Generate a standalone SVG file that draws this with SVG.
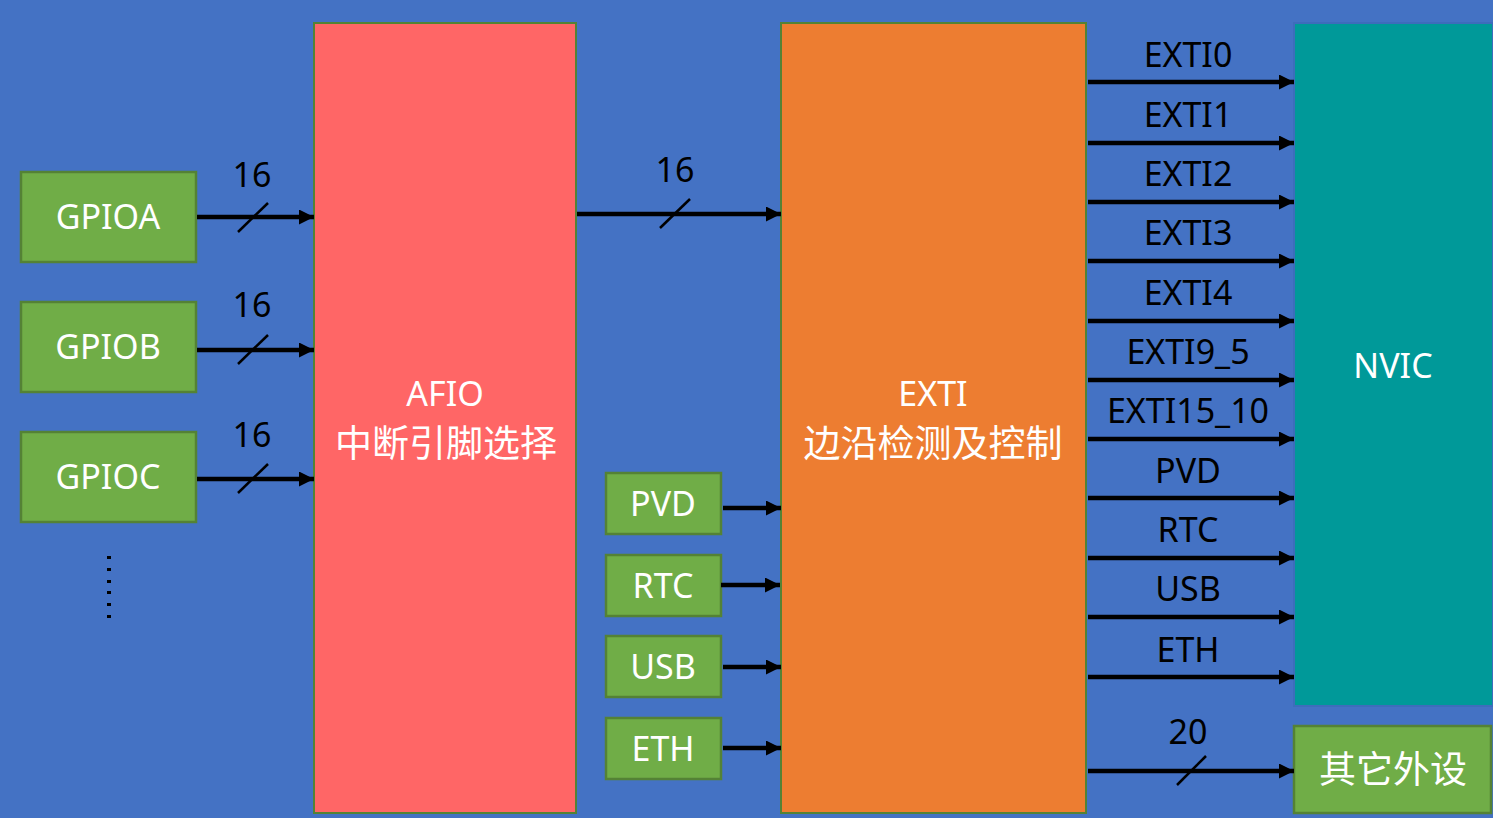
<svg xmlns="http://www.w3.org/2000/svg" width="1493" height="818" viewBox="0 0 1493 818">
<defs>
<marker id="arr" markerUnits="userSpaceOnUse" markerWidth="16" markerHeight="16" refX="15" refY="7.5" orient="auto">
<path d="M0,0 L15,7.5 L0,15 Z" fill="#000"/>
</marker>
<style>
.g{fill:#70AD47;stroke:#548235;stroke-width:2.5}
.t{font-family:"Noto Sans","Noto Sans CJK SC",sans-serif;font-size:34px;text-anchor:middle}
.cj{font-family:"Noto Sans CJK SC",sans-serif;font-size:37px}
.w{fill:#fff}
.k{fill:#000}
.c{stroke:#000;stroke-width:4.5;fill:none;marker-end:url(#arr)}
.s{stroke:#000;stroke-width:2.5}
</style>
</defs>
<rect width="1493" height="818" fill="#4472C4"/>
<g id="gpioa"><rect class="g" x="21" y="172" width="175" height="90"/><text class="t w" x="108" y="229">GPIOA</text></g>
<g id="gpiob"><rect class="g" x="21" y="302" width="175" height="90"/><text class="t w" x="108" y="359">GPIOB</text></g>
<g id="gpioc"><rect class="g" x="21" y="432" width="175" height="90"/><text class="t w" x="108" y="489">GPIOC</text></g>
<g id="dots" fill="#000">
<rect x="107" y="556" width="4" height="3"/><rect x="107" y="568" width="4" height="3"/><rect x="107" y="580" width="4" height="3"/><rect x="107" y="591" width="4" height="3"/><rect x="107" y="603" width="4" height="3"/><rect x="107" y="615" width="4" height="3"/>
</g>
<g id="afio"><rect x="314" y="23" width="262" height="790" fill="#FF6666" stroke="#548235" stroke-width="2"/>
<text class="t w" x="445" y="406">AFIO</text><text class="t cj w" x="446" y="457">中断引脚选择</text></g>
<g id="exti"><rect x="781" y="23" width="305" height="790" fill="#ED7D31" stroke="#548235" stroke-width="2"/>
<text class="t w" x="933" y="406">EXTI</text><text class="t cj w" x="933" y="457">边沿检测及控制</text></g>
<g id="pvd"><rect class="g" x="606" y="473" width="115" height="61"/><text class="t w" x="663" y="516">PVD</text></g>
<g id="rtc"><rect class="g" x="606" y="555" width="115" height="61"/><text class="t w" x="663" y="598">RTC</text></g>
<g id="usb"><rect class="g" x="606" y="636" width="115" height="61"/><text class="t w" x="663" y="679">USB</text></g>
<g id="eth"><rect class="g" x="606" y="718" width="115" height="61"/><text class="t w" x="663" y="761">ETH</text></g>
<g id="nvic"><rect x="1294" y="23" width="199" height="683" fill="#009999" stroke="#3D6DBB" stroke-width="2"/><text class="t w" x="1393" y="378">NVIC</text></g>
<g id="other"><rect class="g" x="1294" y="726" width="197" height="87"/><text class="t cj w" x="1393" y="783">其它外设</text></g>
<g id="connectors">
<line class="c" x1="197" y1="217" x2="314" y2="217"/><line class="s" x1="238" y1="232" x2="268" y2="203"/><text class="t k" x="252" y="187">16</text>
<line class="c" x1="197" y1="350" x2="314" y2="350"/><line class="s" x1="238" y1="364" x2="268" y2="335"/><text class="t k" x="252" y="317">16</text>
<line class="c" x1="197" y1="479" x2="314" y2="479"/><line class="s" x1="238" y1="493" x2="268" y2="464"/><text class="t k" x="252" y="447">16</text>
<line class="c" x1="577" y1="214" x2="781" y2="214"/><line class="s" x1="660" y1="228" x2="690" y2="199"/><text class="t k" x="675" y="182">16</text>
<line class="c" x1="723" y1="508" x2="781" y2="508"/>
<line class="c" x1="721" y1="585" x2="780" y2="585"/>
<line class="c" x1="723" y1="667" x2="781" y2="667"/>
<line class="c" x1="723" y1="748" x2="781" y2="748"/>
<line class="c" x1="1088" y1="82" x2="1294" y2="82"/><text class="t k" x="1188" y="67">EXTI0</text>
<line class="c" x1="1088" y1="143" x2="1294" y2="143"/><text class="t k" x="1188" y="127">EXTI1</text>
<line class="c" x1="1088" y1="202" x2="1294" y2="202"/><text class="t k" x="1188" y="186">EXTI2</text>
<line class="c" x1="1088" y1="261" x2="1294" y2="261"/><text class="t k" x="1188" y="245">EXTI3</text>
<line class="c" x1="1088" y1="321" x2="1294" y2="321"/><text class="t k" x="1188" y="305">EXTI4</text>
<line class="c" x1="1088" y1="380" x2="1294" y2="380"/><text class="t k" x="1188" y="364">EXTI9_5</text>
<line class="c" x1="1088" y1="439" x2="1294" y2="439"/><text class="t k" x="1188" y="423">EXTI15_10</text>
<line class="c" x1="1088" y1="498" x2="1294" y2="498"/><text class="t k" x="1188" y="483">PVD</text>
<line class="c" x1="1088" y1="558" x2="1294" y2="558"/><text class="t k" x="1188" y="542">RTC</text>
<line class="c" x1="1088" y1="617" x2="1294" y2="617"/><text class="t k" x="1188" y="601">USB</text>
<line class="c" x1="1088" y1="677" x2="1294" y2="677"/><text class="t k" x="1188" y="662">ETH</text>
<line class="c" x1="1088" y1="771" x2="1294" y2="771"/><line class="s" x1="1177" y1="785" x2="1206" y2="756"/><text class="t k" x="1188" y="744">20</text>
</g>
</svg>
